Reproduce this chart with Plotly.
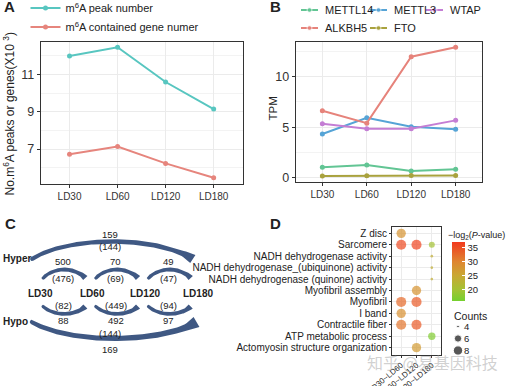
import numpy as np
import plotly.graph_objects as go

W, H = 508, 386
FONT = "Liberation Sans, Arial, sans-serif"
INK = "#333333"

# ---------------- data ----------------
stages = ["LD30", "LD60", "LD120", "LD180"]

# Panel A (x10^3)
peak_number = [11.98, 12.45, 10.59, 9.14]
gene_number = [6.72, 7.13, 6.23, 5.46]

# Panel B (TPM)
tpm_series = ["METTL14", "METTL3", "WTAP", "ALKBH5", "FTO"]
tpm_mettl14 = [1.03, 1.26, 0.66, 0.84]
tpm_mettl3 = [4.33, 5.94, 5.05, 4.79]
tpm_wtap = [5.35, 4.85, 4.85, 5.68]
tpm_alkbh5 = [6.63, 5.40, 11.98, 12.91]
tpm_fto = [0.18, 0.20, 0.22, 0.22]

# Panel C (peaks, (genes))
hyper_adjacent = [500, 70, 49]
hyper_adjacent_genes = [476, 69, 47]
hyper_span = 159
hyper_span_genes = 144
hypo_adjacent = [88, 492, 97]
hypo_adjacent_genes = [82, 449, 94]
hypo_span = 169
hypo_span_genes = 144

# Panel D
go_terms = ["Z disc", "Sarcomere", "NADH dehydrogenase activity",
            "NADH dehydrogenase_(ubiquinone) activity",
            "NADH dehydrogenase (quinone) activity", "Myofibril assembly",
            "Myofibril", "I band", "Contractile fiber", "ATP metabolic process",
            "Actomyosin structure organization"]
comparisons = ["LD30~LD60", "LD60~LD120", "LD120~LD180"]
d_term = ["Z disc", "Sarcomere", "Sarcomere", "Sarcomere",
          "NADH dehydrogenase activity", "NADH dehydrogenase_(ubiquinone) activity",
          "NADH dehydrogenase (quinone) activity", "Myofibril assembly",
          "Myofibril", "Myofibril", "I band", "Contractile fiber", "Contractile fiber",
          "ATP metabolic process", "Actomyosin structure organization"]
d_comp = ["LD30~LD60", "LD30~LD60", "LD60~LD120", "LD120~LD180",
          "LD120~LD180", "LD120~LD180", "LD120~LD180", "LD60~LD120",
          "LD30~LD60", "LD60~LD120", "LD30~LD60", "LD30~LD60", "LD60~LD120",
          "LD120~LD180", "LD60~LD120"]
d_count = [8, 9, 9, 5, 4, 4, 4, 8, 9, 9, 8, 9, 9, 6, 8]
d_logp = [28, 35.5, 36, 20, 24, 24, 24, 28, 32.5, 34, 28.5, 31.5, 34, 17, 27]
count_breaks = [4, 6, 8]


def xd(px):
    return px / W


def yd(py):
    return 1 - py / H


def size_scale(c):
    c = np.asarray(c, dtype=float)
    return 2.7 + 7.4 * np.sqrt(np.clip((c - 4) / 5.0, 0, None))


fig = go.Figure()

# ---------------- Panel A ----------------
colA = {"peak": "#58C6C0", "gene": "#E6857D"}
fig.add_trace(go.Scatter(x=stages, y=peak_number, mode="lines+markers",
                         name="m<sup>6</sup>A peak number",
                         line=dict(color=colA["peak"], width=2), marker=dict(size=5),
                         xaxis="x", yaxis="y", legend="legend"))
fig.add_trace(go.Scatter(x=stages, y=gene_number, mode="lines+markers",
                         name="m<sup>6</sup>A contained gene numer",
                         line=dict(color=colA["gene"], width=2), marker=dict(size=5),
                         xaxis="x", yaxis="y", legend="legend2"))

# ---------------- Panel B ----------------
colB = {"METTL14": "#62C594", "METTL3": "#56A4D6", "WTAP": "#C47ED4",
        "ALKBH5": "#E6837B", "FTO": "#A9A23E"}
tpm_values = {"METTL14": tpm_mettl14, "METTL3": tpm_mettl3, "WTAP": tpm_wtap,
              "ALKBH5": tpm_alkbh5, "FTO": tpm_fto}
for g in tpm_series:
    fig.add_trace(go.Scatter(x=stages, y=tpm_values[g], mode="lines+markers", name=g,
                             line=dict(color=colB[g], width=2), marker=dict(size=5),
                             xaxis="x2", yaxis="y2", showlegend=False))

# legend keys for panel B (compact ggplot-style keys, 3 columns)
leg_cols = [301, 370, 426]     # key start (px)
leg_rows = [10, 28]            # row centre (px)
for k, g in enumerate(tpm_series):
    kx = leg_cols[k % 3]
    ky = leg_rows[k // 3]
    fig.add_trace(go.Scatter(x=[kx, kx + 8.5, kx + 17], y=[ky] * 3, mode="lines+markers",
                             line=dict(color=colB[g], width=2),
                             marker=dict(size=[0, 5, 0], color=colB[g]),
                             xaxis="x6", yaxis="y6", showlegend=False, hoverinfo="skip"))
    fig.add_annotation(x=kx + 21.5, y=ky, xref="x6", yref="y6", text=g, showarrow=False,
                       xanchor="left", yanchor="middle",
                       font=dict(size=11, color="#222", family=FONT))

# ---------------- Panel C ----------------
C_X0, C_STEP = 40.0, 52.7   # px of LD30 label centre and stage spacing
ARC = "#3F5883"


def ribbon(i0, i1, y_end, y_apex, w0, w1, flare_w=0.0, flare_len=0.1, p=0.75, e=0.04, n=80):
    t = np.linspace(0, 1, n)
    X0, X1 = C_X0 + C_STEP * i0, C_X0 + C_STEP * i1
    cx = X0 + (X1 - X0) * t
    s = e + (1 - 2 * e) * t
    f = (1 - (2 * s - 1) ** 2) ** p
    fe = (1 - (2 * e - 1) ** 2) ** p
    shape = (f - fe) / (1 - fe)
    cy = y_end + (y_apex - y_end) * shape
    dx, dy = np.gradient(cx), np.gradient(cy)
    nrm = np.hypot(dx, dy)
    nx, ny = -dy / nrm, dx / nrm
    hw = w0 + (w1 - w0) * t
    fl = np.clip((t - (1 - flare_len)) / flare_len, 0, 1)
    hw = hw + flare_w * fl
    ux, uy = cx + nx * hw, cy + ny * hw
    lx, ly = cx - nx * hw, cy - ny * hw
    tx, ty = dx[0] / nrm[0], dy[0] / nrm[0]
    ang = np.linspace(0, np.pi, 12)
    capx = cx[0] + hw[0] * (-nx[0] * np.cos(ang) - tx * np.sin(ang))
    capy = cy[0] + hw[0] * (-ny[0] * np.cos(ang) - ty * np.sin(ang))
    px = np.concatenate([ux, lx[::-1], capx, ux[:1]])
    py = np.concatenate([uy, ly[::-1], capy, uy[:1]])
    return (px - C_X0) / C_STEP, py


def add_ribbon(*args, **kw):
    xs, ys = ribbon(*args, **kw)
    fig.add_trace(go.Scatter(x=xs, y=ys, mode="lines", fill="toself", fillcolor=ARC,
                             line=dict(width=0, color=ARC), hoverinfo="skip",
                             showlegend=False, xaxis="x3", yaxis="y3"))


def c_text(x, y, text, size=9.5, bold=False, anchor="center"):
    fig.add_annotation(x=x, y=y, xref="x3", yref="y3", text=f"<b>{text}</b>" if bold else text,
                       showarrow=False, xanchor=anchor, yanchor="middle",
                       font=dict(size=size, color="#222", family=FONT))


add_ribbon(-0.15, 2.9, 259, 241.5, 2.0, 2.5, flare_w=2.3, flare_len=0.07, p=0.6)
add_ribbon(-0.15, 2.97, 322, 338.5, 2.3, 2.9, flare_w=2.8, flare_len=0.07, p=0.6)
mid_big = (-0.15 + 2.9) / 2 - 0.05
c_text(mid_big, 234.5, str(hyper_span))
c_text(mid_big, 247, f"({hyper_span_genes})")
c_text(mid_big, 333, f"({hypo_span_genes})")
c_text(mid_big, 349, str(hypo_span))

for i in range(3):
    a0, a1 = i + 0.06, i + 0.86
    mid = (a0 + a1) / 2 - 0.02
    add_ribbon(a0, a1, 278, 269.5, 1.7, 2.1, flare_w=0.8, flare_len=0.12, p=0.7)
    add_ribbon(a0, a1, 306.5, 314, 1.7, 2.1, flare_w=0.8, flare_len=0.12, p=0.7)
    c_text(mid, 261.5, str(hyper_adjacent[i]))
    c_text(mid, 278.5, f"({hyper_adjacent_genes[i]})")
    c_text(mid, 305.5, f"({hypo_adjacent_genes[i]})")
    c_text(mid, 320.5, str(hypo_adjacent[i]))

for i, s in enumerate(stages):
    c_text(i, 293, s, size=10, bold=True)
c_text(-0.74, 258, "Hyper", size=10, bold=True, anchor="left")
c_text(-0.74, 321.5, "Hypo", size=10, bold=True, anchor="left")

# ---------------- Panel D ----------------
colorscale = [[0.0, "#74D02E"], [0.19, "#A4C234"], [0.43, "#C9A833"],
              [0.67, "#DF8530"], [0.9, "#EC5024"], [1.0, "#F23A1E"]]
fig.add_trace(go.Scatter(
    x=d_comp, y=d_term, mode="markers", xaxis="x4", yaxis="y4", showlegend=False,
    marker=dict(size=size_scale(d_count), color=d_logp, colorscale=colorscale,
                cmin=16, cmax=37, showscale=True, line=dict(width=0),
                colorbar=dict(x=xd(451.5), xanchor="left", y=yd(242), yanchor="top",
                              len=59, lenmode="pixels", thickness=13, thicknessmode="pixels",
                              tickvals=[20, 25, 30, 35], ticks="inside", ticklen=3,
                              tickcolor="white", outlinewidth=0, xpad=0, ypad=0,
                              tickfont=dict(size=9.5, color="#222", family=FONT)))))

fig.add_trace(go.Scatter(x=[0] * len(count_breaks), y=count_breaks, mode="markers",
                         xaxis="x5", yaxis="y5", showlegend=False, hoverinfo="skip",
                         marker=dict(size=size_scale(count_breaks), color="#111")))


# ---------------- layout ----------------
def frame(**kw):
    d = dict(showline=True, mirror=True, linecolor=INK, linewidth=1, ticks="outside",
             ticklen=3, tickcolor=INK, showgrid=True, gridcolor="#EBEBEB", gridwidth=1,
             zeroline=False, tickfont=dict(size=10, color=INK, family=FONT))
    d.update(kw)
    return d


leg_font = dict(size=11, color="#222", family=FONT)
layout = dict(
    width=W, height=H, margin=dict(l=0, r=0, t=0, b=0, autoexpand=False),
    paper_bgcolor="white", plot_bgcolor="white",
    font=dict(family=FONT, color="#222"),
    xaxis=frame(domain=[xd(40.7), xd(242.5)], type="category", categoryorder="array",
                categoryarray=stages, range=[-0.6, 3.6], anchor="y"),
    yaxis=frame(domain=[yd(184), yd(41.7)], range=[5.125, 12.75], tick0=7, dtick=2,
                minor=dict(dtick=1, tick0=6, showgrid=True, gridcolor="#F3F3F3", gridwidth=0.6),
                tickfont=dict(size=12.5, color=INK, family=FONT), anchor="x"),
    xaxis2=frame(domain=[xd(295.7), xd(482.3)], type="category", categoryorder="array",
                 categoryarray=stages, range=[-0.6, 3.6], anchor="y2"),
    yaxis2=frame(domain=[yd(182.3), yd(41.7)], range=[-0.455, 13.47], tick0=0, dtick=5,
                 minor=dict(dtick=2.5, tick0=0, showgrid=True, gridcolor="#F3F3F3", gridwidth=0.6),
                 tickfont=dict(size=12.5, color=INK, family=FONT), anchor="x2"),
    xaxis3=dict(domain=[0, xd(215)], range=[(0 - C_X0) / C_STEP, (215 - C_X0) / C_STEP],
                visible=False, anchor="y3"),
    yaxis3=dict(domain=[0, yd(200)], range=[386, 200], visible=False, anchor="x3"),
    xaxis4=frame(domain=[xd(392), xd(441)], type="category", categoryorder="array",
                 categoryarray=comparisons, range=[-0.6, 2.6], tickangle=-40, ticklen=2,
                 tickmode="array", tickvals=comparisons,
                 tickfont=dict(size=8, color="#222", family=FONT), anchor="y4"),
    yaxis4=frame(domain=[yd(354.5), yd(226.5)], type="category", categoryorder="array",
                 categoryarray=go_terms, range=[10.6, -0.6], ticklen=2,
                 tickmode="array", tickvals=go_terms,
                 tickfont=dict(size=10, color="#222", family=FONT), anchor="x4"),
    xaxis5=dict(domain=[xd(453), xd(463)], range=[-1, 1], visible=False, anchor="y5"),
    yaxis5=dict(domain=[yd(356.5), yd(320.5)], range=[9, 3], side="right", anchor="x5",
                showgrid=False, zeroline=False, showline=False, ticks="",
                tickvals=count_breaks, tickfont=dict(size=9.5, color="#222", family=FONT)),
    xaxis6=dict(domain=[xd(290), 1], range=[290, W], visible=False, anchor="y6"),
    yaxis6=dict(domain=[yd(38), 1], range=[38, 0], visible=False, anchor="x6"),
    legend=dict(x=xd(25.5), y=yd(8), xanchor="left", yanchor="middle",
                bgcolor="rgba(0,0,0,0)", font=leg_font),
    legend2=dict(x=xd(25.5), y=yd(27), xanchor="left", yanchor="middle",
                 bgcolor="rgba(0,0,0,0)", font=leg_font),
    showlegend=True,
)
fig.update_layout(**layout)


def ann(px, py, text, size=10, anchor="left", yanchor="middle", angle=0, color="#222", family=FONT):
    fig.add_annotation(x=xd(px), y=yd(py), xref="paper", yref="paper", text=text,
                       showarrow=False, xanchor=anchor, yanchor=yanchor, textangle=angle,
                       font=dict(size=size, color=color, family=family))


ann(2, 7, "<b>A</b>", size=15)
ann(268, 7, "<b>B</b>", size=15)
ann(3, 224, "<b>C</b>", size=15)
ann(268, 224, "<b>D</b>", size=15)
ann(9, 114.5, "No.m<sup>6</sup>A peaks or genes(X10 <sup>3</sup>)", size=12, anchor="center",
    angle=-90)
ann(272.5, 109, "TPM", size=11.5, anchor="center", angle=-90)
ann(446, 235, "\u2212log<sub>2</sub>(<i>P</i>-value)", size=9)
ann(452, 316, "Counts", size=10.5)
ann(432, 362, "知乎 @易基因科技", size=16, anchor="center", color="rgba(170,170,170,0.55)",
    family="Noto Sans CJK SC")

fig.write_html("out.html", config={"displayModeBar": False},
               post_script="document.body.style.margin='0px';")
